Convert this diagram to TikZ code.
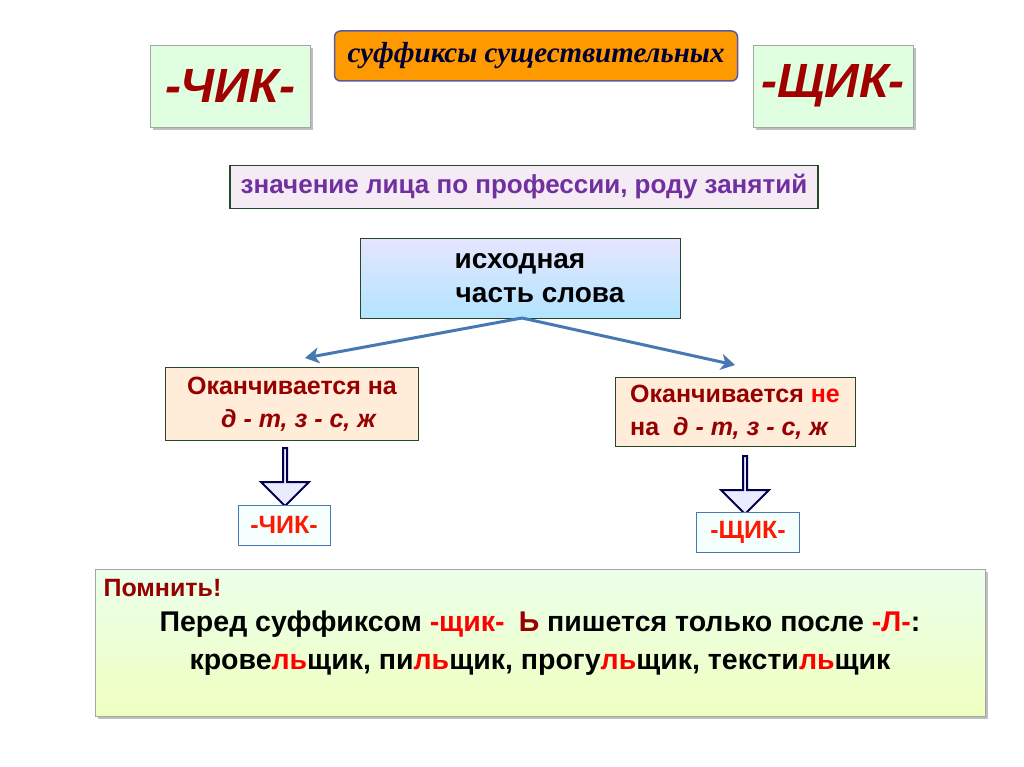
\documentclass[tikz,border=0pt]{standalone}
\usepackage{fontspec}
\setmainfont{Liberation Sans}
\newfontfamily\titlefont{Liberation Serif}
\usetikzlibrary{arrows.meta,shapes.arrows,shadows}
\definecolor{darkred}{RGB}{150,0,0}
\definecolor{boxgreen}{RGB}{40,70,40}
\definecolor{arrowblue}{RGB}{70,120,180}
\definecolor{purpletext}{RGB}{112,48,160}
\tikzset{
  bigsuf/.style={draw=gray!70, fill=green!12, drop shadow, minimum width=160pt,
    minimum height=82pt, font=\fontsize{48}{52}\selectfont\bfseries\itshape, text=darkred!90!red},
  rulebox/.style={draw=boxgreen, line width=1pt, fill=orange!15!white, align=left,
    font=\fontsize{25}{33}\selectfont\bfseries, text=darkred, inner sep=6pt},
  smallsuf/.style={draw=arrowblue, fill=green!6!cyan!4, minimum height=40pt,
    font=\fontsize{25}{28}\selectfont\bfseries, text=red!80!orange},
  hollow/.style={single arrow, draw=blue!30!black, line width=2pt, fill=blue!8,
    shape border rotate=270, minimum height=58pt, minimum width=48pt,
    single arrow head extend=11pt, single arrow tip angle=90, inner sep=0pt},
}
\begin{document}
\begin{tikzpicture}[x=1pt,y=-1pt]
  \useasboundingbox[fill=white] (0,0) rectangle (1024,767);

  % Top row.
  \node[bigsuf] (chik) at (230,86) {-ЧИК-};
  \node[bigsuf] (shchik) at (833,86) {-ЩИК-};
  \node[draw=blue!30!gray, line width=1.5pt, rounded corners=6pt, fill=orange!80!yellow,
    minimum width=403pt, minimum height=50pt,
    font=\titlefont\fontsize{29}{32}\selectfont\bfseries\itshape, text=blue!20!black]
    (title) at (536,56) {суффиксы существительных};

  % Meaning of the suffix.
  \node[draw=boxgreen, line width=1.5pt, fill=violet!8, minimum width=588pt,
    minimum height=43pt, font=\fontsize{26}{30}\selectfont\bfseries, text=purpletext]
    (mean) at (524,187) {значение лица по профессии, роду занятий};

  % Root part.
  \node[draw=boxgreen, line width=1pt, top color=blue!10, bottom color=blue!35!cyan!30,
    minimum width=320pt, minimum height=80pt, align=center,
    font=\fontsize{28}{34}\selectfont\bfseries] (root) at (520,278)
    {исходная\\\hspace*{40pt}часть слова};

  % Two cases.
  \node[rulebox, minimum width=253pt, minimum height=73pt] (left) at (292,404)
    {Оканчивается на\\\hspace*{34pt}\itshape д - т, з - с, ж};
  \node[rulebox, minimum width=240pt, minimum height=69pt] (right) at (735,412)
    {Оканчивается {\color{red}не}\\на\hspace{14pt}\itshape д - т, з - с, ж};
  \coordinate (fork) at (522,318);
  \draw[arrowblue, line width=3pt, -{Stealth[length=14pt,width=16pt,inset=4pt]}]
    (fork) -- (305,358);
  \draw[arrowblue, line width=3pt, -{Stealth[length=14pt,width=16pt,inset=4pt]}]
    (fork) -- (735,365);

  % Results.
  \node[hollow] (larr) at (285,476) {};
  \node[hollow] (rarr) at (745,484) {};
  \node[smallsuf, minimum width=92pt] (lres) at (284,525) {-ЧИК-};
  \node[smallsuf, minimum width=103pt] (rres) at (748,532) {-ЩИК-};

  % Reminder.
  \node[draw=gray!70, top color=green!8, bottom color=green!25!yellow!25, drop shadow,
    minimum width=890pt, minimum height=147pt] (memo) at (540,643) {};
  \node[anchor=north west, font=\fontsize{25}{28}\selectfont\bfseries, text=darkred]
    (memt) at (100,576) {Помнить!};
  \node[align=center, font=\fontsize{28.5}{38}\selectfont\bfseries] (rule) at (540,643)
    {Перед суффиксом {\color{red}-щик-}\enspace{\color{darkred}Ь} пишется только после {\color{red}-Л-}:\\
     крове{\color{red}ль}щик, пи{\color{red}ль}щик, прогу{\color{red}ль}щик, тексти{\color{red}ль}щик};
\end{tikzpicture}
\end{document}
